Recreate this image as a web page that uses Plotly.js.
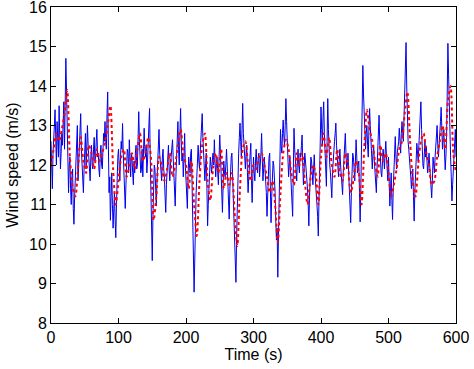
<!DOCTYPE html>
<html>
<head>
<meta charset="utf-8">
<script src="https://cdn.plot.ly/plotly-3.0.1.min.js"></script>
<style>html,body{margin:0;padding:0;background:#fff;}#chart{width:474px;height:369px;}</style>
</head>
<body>
<div id="chart"></div>
<script>
// Measured wind speed, sampled every 1 s from 0 to 600 s
var measuredTimeStep = 1;
var measuredSpeed = [
  12.6,11.9, 11.4,12.3, 12.9,13.0, 13.4,12.5, 12.0,13.1, 12.6,12.2, 13.5,12.7, 11.9,12.3, 12.8,12.5, 13.2,13.6,
  12.4,13.7, 14.7,13.9, 13.0,11.8, 11.3,12.0, 12.2,11.4, 11.0,11.7, 11.9,10.9, 10.5,11.2, 11.6,12.0, 12.4,13.0,
  11.6,12.1, 12.5,12.9, 13.3,12.4, 12.0,11.6, 11.3,11.9, 12.4,12.8, 11.9,12.3, 13.0,12.5, 12.2,11.8, 11.6,12.2,
  12.5,12.0, 11.9,12.4, 12.7,12.1, 12.2,12.6, 12.9,12.2, 12.3,11.9, 11.7,12.3, 12.5,12.0, 11.9,12.4, 12.8,12.6,
  13.1,12.6, 12.4,13.3, 13.85,12.5, 11.3,11.7, 10.6,11.2, 11.8,11.0, 10.4,10.9, 11.3,10.6, 10.16,11.0, 11.9,12.2,
  12.4,11.9, 11.6,12.2, 12.6,12.4, 13.05,12.3, 11.8,11.2, 10.9,11.5, 11.9,12.4, 12.3,11.8, 12.64,12.1, 11.7,12.3,
  12.2,11.8, 11.5,12.1, 11.8,12.3, 12.5,11.9, 12.0,12.7, 13.35,12.6, 12.3,11.8, 11.9,12.4, 11.7,12.2, 12.93,12.4,
  12.2,12.5, 11.8,12.1, 12.5,12.9, 13.43,12.2, 11.2,10.3, 9.58,10.7, 11.4,12.0, 11.9,11.3, 10.96,11.6, 12.1,12.4,
  12.9,12.3, 12.1,11.7, 11.6,12.2, 12.4,11.9, 11.7,11.2, 10.8,11.5, 11.9,12.3, 12.5,11.9, 11.6,12.0, 12.2,12.5,
  12.64,12.2, 11.9,11.4, 10.96,11.7, 12.2,12.7, 13.1,12.4, 12.0,12.8, 13.43,12.6, 12.1,12.3, 11.7,12.2, 12.8,12.0,
  11.6,11.2, 10.9,11.7, 12.2,12.0, 11.8,12.3, 12.4,11.5, 10.6,9.8, 8.78,9.6, 10.8,11.3, 11.7,12.2, 12.5,12.1,
  11.9,12.3, 12.6,12.9, 13.3,12.7, 12.2,11.8, 11.6,12.0, 12.3,11.4, 10.46,11.0, 11.5,11.9, 12.2,12.0, 11.8,12.1,
  12.3,12.0, 12.64,12.1, 11.7,12.0, 12.2,11.8, 11.5,12.2, 12.76,12.3, 11.9,11.3, 10.8,11.5, 12.1,11.8, 11.7,12.0,
  12.4,12.0, 11.6,11.1, 10.63,11.4, 11.9,12.2, 12.3,11.7, 11.3,10.6, 9.9,9.5, 9.03,10.2, 11.2,11.8, 12.3,12.7,
  13.06,12.6, 12.2,12.9, 13.56,12.8, 12.4,12.0, 11.9,12.3, 12.5,11.8, 11.3,11.7, 12.1,12.4, 12.55,11.6, 11.05,11.7,
  12.2,11.8, 11.6,12.1, 12.4,12.0, 11.8,12.2, 12.3,11.7, 11.9,12.3, 12.8,12.1, 11.6,11.9, 12.2,11.9, 11.7,11.3,
  10.7,11.4, 11.9,12.2, 12.3,11.5, 10.54,11.2, 11.6,12.1, 12.0,11.7, 11.3,10.6, 10.1,10.4, 9.16,10.2, 11.4,12.3,
  12.9,12.5, 12.3,12.8, 13.14,12.7, 12.5,13.0, 13.68,13.1, 12.6,12.1, 11.7,12.0, 12.2,11.8, 11.5,11.1, 10.7,11.9,
  12.93,12.4, 12.0,11.7, 11.6,12.1, 12.4,12.0, 11.8,12.3, 12.2,12.5, 12.76,12.0, 11.5,11.9, 12.3,12.1, 11.9,11.7,
  11.4,11.0, 10.46,11.2, 11.8,12.2, 12.1,11.7, 11.5,11.9, 12.26,11.8, 11.6,11.2, 11.0,10.7, 10.2,11.1, 11.8,12.7,
  13.47,12.9, 12.5,13.2, 13.6,12.8, 12.4,12.0, 11.46,12.6, 13.68,12.9, 12.3,12.0, 11.8,11.5, 11.17,11.8, 12.2,12.5,
  12.6,12.8, 13.06,12.5, 12.1,11.8, 11.7,12.1, 12.4,12.0, 11.8,11.5, 11.25,11.8, 12.2,12.5, 12.8,12.3, 11.9,12.0,
  12.3,11.8, 11.4,11.0, 10.54,11.3, 11.9,12.3, 12.2,11.8, 11.6,12.1, 12.64,12.2, 11.8,12.0, 12.1,11.3, 10.56,11.4,
  12.2,13.4, 14.52,13.8, 13.1,12.6, 12.4,12.8, 13.0,12.5, 12.2,12.9, 13.43,13.0, 12.6,12.2, 11.9,12.3, 12.5,12.1,
  11.8,11.5, 11.3,11.9, 12.4,12.8, 13.26,12.6, 12.1,11.8, 11.7,12.1, 12.4,12.2, 11.9,12.3, 12.6,12.2, 11.88,11.6,
  12.2,11.5, 10.96,11.4, 11.8,11.1, 10.62,11.4, 12.0,12.4, 12.72,12.2, 11.9,12.3, 12.4,12.6, 12.93,12.5, 12.3,12.8,
  13.1,12.8, 12.6,13.2, 13.8,14.4, 15.1,14.0, 13.0,12.6, 12.4,12.2, 12.05,11.7, 11.4,11.8, 11.9,11.2, 10.58,11.3,
  11.9,12.2, 12.55,12.3, 12.1,12.5, 12.8,13.1, 13.6,12.9, 12.3,12.0, 11.9,12.3, 12.6,12.2, 12.47,12.1, 11.8,12.0,
  12.3,12.0, 11.7,11.4, 11.17,11.6, 12.2,12.0, 11.8,12.2, 12.6,12.9, 13.0,12.5, 12.2,12.5, 12.7,13.1, 13.46,12.9,
  12.4,12.7, 12.9,12.3, 11.88,12.2, 12.7,13.8, 15.08,14.3, 13.4,12.8, 12.2,11.7, 11.09,11.5, 11.9,12.3, 12.55,12.9,
  12.2
];

// Smoothed / estimated wind speed (red dotted), sampled every 4 s from 0 to 600 s
var smoothTimeStep = 4;
var smoothSpeed = [
  12.0, 12.4, 12.8, 12.6, 12.9, 13.3, 13.9, 12.2, 11.45, 11.2,
  11.9, 12.7, 12.1, 11.8, 12.5, 12.3, 11.9, 12.4, 12.1, 12.3,
  12.6, 13.0, 13.5, 11.9, 11.0, 11.6, 12.2, 12.4, 11.7, 12.0,
  12.3, 11.9, 12.4, 12.8, 12.1, 12.3, 12.7, 12.2, 10.6, 11.2,
  12.2, 12.0, 11.6, 11.9, 12.3, 11.7, 12.0, 12.5, 12.9, 12.3,
  12.0, 11.4, 12.1, 11.0, 10.2, 11.6, 12.5, 12.8, 11.6, 11.1,
  11.9, 12.3, 11.8, 12.4, 11.4, 11.8, 11.5, 11.8, 10.8, 9.95,
  11.4, 12.4, 12.6, 12.0, 11.6, 12.0, 11.9, 12.2, 12.3, 12.0,
  11.7, 11.3, 11.6, 11.0, 10.04, 11.3, 12.3, 12.64, 12.4, 11.8,
  11.5, 12.3, 12.0, 12.3, 11.6, 11.0, 11.6, 12.0, 11.8, 11.0,
  12.2, 12.8, 12.2, 12.7, 12.0, 11.7, 12.4, 11.8, 11.6, 12.3,
  12.0, 11.3, 11.6, 12.1, 11.8, 11.0, 12.4, 13.4, 12.9, 12.6,
  12.1, 11.7, 12.5, 12.1, 12.3, 11.8, 11.2, 11.5, 11.9, 12.4,
  12.6, 13.3, 13.85, 12.6, 11.6, 11.2, 12.0, 12.6, 12.8, 12.3,
  12.0, 11.5, 11.6, 12.2, 12.6, 13.0, 12.4, 13.6, 14.0, 12.3,
  11.8
];

var xTickValues = [0, 100, 200, 300, 400, 500, 600];
var yTickValues = [8, 9, 10, 11, 12, 13, 14, 15, 16];
var xTitle = 'Time (s)';
var yTitle = 'Wind speed (m/s)';

var measuredTime = measuredSpeed.map(function (v, i) { return i * measuredTimeStep; });
var smoothTime = smoothSpeed.map(function (v, i) { return i * smoothTimeStep; });

var traces = [
  {
    x: measuredTime, y: measuredSpeed, type: 'scatter', mode: 'lines',
    line: {color: '#0000ee', width: 1}, hoverinfo: 'skip'
  },
  {
    x: smoothTime, y: smoothSpeed, type: 'scatter', mode: 'lines',
    line: {color: '#ff0000', width: 2, dash: 'dot', shape: 'spline', smoothing: 0.8}, hoverinfo: 'skip'
  }
];

var fontFam = 'Liberation Sans, Arial, Helvetica, sans-serif';
var axisCommon = {
  showline: true, linecolor: '#000', linewidth: 1, mirror: 'ticks',
  ticks: 'inside', ticklen: 5, tickcolor: '#000', tickwidth: 1,
  showgrid: false, zeroline: false, ticklabeloverflow: 'allow',
  tickfont: {family: fontFam, size: 16, color: '#000'}
};

var layout = {
  width: 474, height: 369,
  margin: {l: 51, r: 18, t: 7, b: 46},
  paper_bgcolor: '#fff', plot_bgcolor: '#fff',
  showlegend: false,
  xaxis: Object.assign({}, axisCommon, {
    range: [0, 600], tickvals: xTickValues, ticktext: xTickValues.map(String),
    title: {text: xTitle, standoff: 2, font: {family: fontFam, size: 16, color: '#000'}}
  }),
  yaxis: Object.assign({}, axisCommon, {
    range: [8, 16], tickvals: yTickValues, ticktext: yTickValues.map(String),
    title: {text: yTitle, standoff: 6, font: {family: fontFam, size: 16, color: '#000'}}
  })
};

Plotly.newPlot('chart', traces, layout, {displayModeBar: false, staticPlot: true});
</script>
</body>
</html>
